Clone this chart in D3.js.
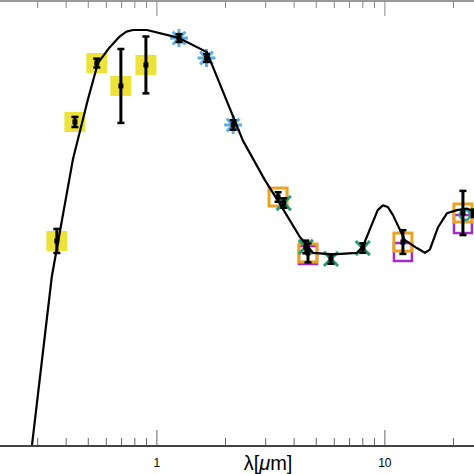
<!DOCTYPE html>
<html>
<meta charset="utf-8">
<style>
body { margin: 0; background: #fff; }
text { font-family: "Liberation Sans", Arial, sans-serif; }
</style>
<head>
<script src="https://d3js.org/d3.v7.min.js"></script>
</head>
<body>
<script>
var width = 474, height = 474;

// model SED: wavelength (micron) and log10 flux
var modelWave = [0.283, 0.346, 0.428, 0.498, 0.551, 0.62, 0.688, 0.735, 0.785, 0.904, 1.249, 1.657,
                 2.384, 2.977, 3.463, 4.239, 4.834, 5.914, 7.54, 8.01, 8.77, 9.3, 9.8, 10.3,
                 10.84, 12.24, 13.81, 14.98, 15.75, 17.08, 18.71, 20.7, 22.89, 24.57];
var modelFlux = [-12.82, -11.75, -11.01, -10.63, -10.40, -10.30, -10.23, -10.20, -10.19, -10.19, -10.24, -10.33,
                 -10.89, -11.14, -11.29, -11.50, -11.60, -11.61, -11.60, -11.56, -11.42, -11.33, -11.30, -11.31,
                 -11.36, -11.52, -11.57, -11.60, -11.58, -11.44, -11.35, -11.33, -11.32, -11.34];

// optical photometry (yellow squares)
var optWave = [0.364, 0.437, 0.545, 0.695, 0.895];
var optFlux = [-11.525, -10.772, -10.399, -10.544, -10.411];
var optErr  = [0.076, 0.032, 0.028, 0.234, 0.18];

// near-IR (blue stars)
var nirWave = [1.25, 1.65, 2.16];
var nirFlux = [-10.241, -10.367, -10.791];
var nirErr  = [0.025, 0.025, 0.03];

// mid-IR (orange squares)
var w1Wave = [3.4, 4.6, 12.0, 22.0];
var w1Flux = [-11.247, -11.601, -11.532, -11.348];
var w1Err  = [0.03, 0.06, 0.075, 0.14];

// mid-IR second epoch (purple squares)
var w2Wave = [4.6, 12.0, 22.0];
var w2Flux = [-11.614, -11.595, -11.418];

// IRAC-like (green crosses)
var irWave = [3.6, 4.5, 5.8, 8.0];
var irFlux = [-11.285, -11.563, -11.639, -11.570];
var irErr  = [0.03, 0.04, 0.03, 0.03];

// far point at right edge
var farWave = [25.0];
var farFlux = [-11.35];

var minorTicks = [0.3, 0.4, 0.5, 0.6, 0.7, 0.8, 0.9, 2, 3, 4, 5, 6, 7, 8, 9, 20];
var majorTicks = [1, 10];

var x = d3.scaleLog().domain([0.205, 24.6]).range([0, width]);
var y = d3.scaleLinear().domain([-13, -10]).range([474, 0]);
var axisY = 446;

var svg = d3.select("body").append("svg")
    .attr("width", width)
    .attr("height", height);

function zip(w, f) { return w.map(function(d, i) { return {w: d, f: f[i]}; }); }

// top axis (ticks pointing down)
var topG = svg.append("g").attr("transform", "translate(0,1)");
topG.append("line").attr("x1", 0).attr("x2", width).attr("y1", 0).attr("y2", 0)
    .attr("stroke", "#999").attr("stroke-width", 2);
topG.selectAll("line.mn").data(minorTicks).enter().append("line")
    .attr("x1", x).attr("x2", x).attr("y1", 0).attr("y2", 7)
    .attr("stroke", "#888").attr("stroke-width", 1);
topG.selectAll("line.mj").data(majorTicks).enter().append("line")
    .attr("x1", x).attr("x2", x).attr("y1", 0).attr("y2", 15)
    .attr("stroke", "#888").attr("stroke-width", 1);

// bottom axis (ticks pointing up)
var botG = svg.append("g").attr("transform", "translate(0," + axisY + ")");
botG.selectAll("line.mn").data(minorTicks).enter().append("line")
    .attr("x1", x).attr("x2", x).attr("y1", 0).attr("y2", -8)
    .attr("stroke", "#666").attr("stroke-width", 1);
botG.selectAll("line.mj").data(majorTicks).enter().append("line")
    .attr("x1", x).attr("x2", x).attr("y1", 0).attr("y2", -16)
    .attr("stroke", "#666").attr("stroke-width", 1);
botG.selectAll("text").data(majorTicks).enter().append("text")
    .attr("x", x).attr("y", 21)
    .attr("text-anchor", "middle")
    .style("font-size", "12px")
    .text(function(d) { return d; });
var xl = botG.append("text")
    .attr("x", 268).attr("y", 24)
    .attr("text-anchor", "middle")
    .style("font-size", "20px");
xl.append("tspan").text("λ[");
xl.append("tspan").style("font-style", "italic").text("μ");
xl.append("tspan").text("m]");

// yellow squares
svg.selectAll("rect.opt").data(zip(optWave, optFlux)).enter().append("rect")
    .attr("x", function(d) { return x(d.w) - 10.5; })
    .attr("y", function(d) { return y(d.f) - 10; })
    .attr("width", 21).attr("height", 20)
    .attr("fill", "#ece23a");

// blue stars
var star = svg.selectAll("g.nir").data(zip(nirWave, nirFlux)).enter().append("g")
    .attr("transform", function(d) { return "translate(" + x(d.w) + "," + y(d.f) + ")"; });
[0, 45, 90, 135].forEach(function(a) {
  var r = 9, c = Math.cos(a * Math.PI / 180), s = Math.sin(a * Math.PI / 180);
  star.append("line")
      .attr("x1", -r * c).attr("y1", -r * s).attr("x2", r * c).attr("y2", r * s)
      .attr("stroke", "#5aaee0").attr("stroke-width", 3);
});

// purple squares (under orange)
svg.selectAll("rect.w2").data(zip(w2Wave, w2Flux)).enter().append("rect")
    .attr("x", function(d) { return x(d.w) - 9; })
    .attr("y", function(d) { return y(d.f) - 9; })
    .attr("width", 18).attr("height", 18)
    .attr("fill", "none").attr("stroke", "#a22ccc").attr("stroke-width", 2.5);

// orange squares
svg.selectAll("rect.w1").data(zip(w1Wave, w1Flux)).enter().append("rect")
    .attr("x", function(d) { return x(d.w) - 9; })
    .attr("y", function(d) { return y(d.f) - 9; })
    .attr("width", 18).attr("height", 18)
    .attr("fill", "none").attr("stroke", "#e9a324").attr("stroke-width", 3);

// green crosses
var cross = svg.selectAll("g.ir").data(zip(irWave, irFlux)).enter().append("g")
    .attr("transform", function(d) { return "translate(" + x(d.w) + "," + y(d.f) + ")"; });
[45, 135].forEach(function(a) {
  var r = 10, c = Math.cos(a * Math.PI / 180), s = Math.sin(a * Math.PI / 180);
  cross.append("line")
      .attr("x1", -r * c).attr("y1", -r * s).attr("x2", r * c).attr("y2", r * s)
      .attr("stroke", "#2a9d70").attr("stroke-width", 3);
});

// teal circle at 22 micron
svg.append("circle")
    .attr("cx", x(w1Wave[3]) + 2).attr("cy", y(w1Flux[3]) + 2)
    .attr("r", 5).attr("fill", "none").attr("stroke", "#2a9d8f").attr("stroke-width", 2.5);

// model curve
var line = d3.line()
    .x(function(d) { return x(d.w); })
    .y(function(d) { return y(d.f); })
    .curve(d3.curveLinear);
svg.append("path")
    .datum(zip(modelWave, modelFlux))
    .attr("d", line)
    .attr("fill", "none")
    .attr("stroke", "#000")
    .attr("stroke-width", 2.2)
    .attr("stroke-linejoin", "round");

// error bars
function errBars(w, f, e) {
  var d = w.map(function(v, i) { return {w: v, f: f[i], e: e[i]}; });
  var g = svg.append("g");
  g.selectAll("line.v").data(d).enter().append("line")
      .attr("x1", function(d) { return x(d.w); }).attr("x2", function(d) { return x(d.w); })
      .attr("y1", function(d) { return y(d.f + d.e); }).attr("y2", function(d) { return y(d.f - d.e); })
      .attr("stroke", "#000").attr("stroke-width", 3);
  [1, -1].forEach(function(sg) {
    g.selectAll("line.c" + sg).data(d).enter().append("line")
        .attr("x1", function(d) { return x(d.w) - 3.5; }).attr("x2", function(d) { return x(d.w) + 3.5; })
        .attr("y1", function(d) { return y(d.f + sg * d.e); }).attr("y2", function(d) { return y(d.f + sg * d.e); })
        .attr("stroke", "#000").attr("stroke-width", 2.5);
  });
  g.selectAll("rect").data(d).enter().append("rect")
      .attr("x", function(d) { return x(d.w) - 2.5; })
      .attr("y", function(d) { return y(d.f) - 2.5; })
      .attr("width", 5).attr("height", 5).attr("fill", "#000");
}
errBars(optWave, optFlux, optErr);
errBars(nirWave, nirFlux, nirErr);
errBars(irWave, irFlux, irErr);
errBars(w1Wave, w1Flux, w1Err);

// far-IR point (cut by frame)
svg.selectAll("rect.far").data(zip(farWave, farFlux)).enter().append("rect")
    .attr("x", function(d) { return x(d.w) - 5; })
    .attr("y", function(d) { return y(d.f) - 5; })
    .attr("width", 10).attr("height", 10).attr("fill", "#000");

// bottom axis line on top
svg.append("line").attr("x1", 0).attr("x2", width).attr("y1", axisY).attr("y2", axisY)
    .attr("stroke", "#444").attr("stroke-width", 1.8);
</script>
</body>
</html>
